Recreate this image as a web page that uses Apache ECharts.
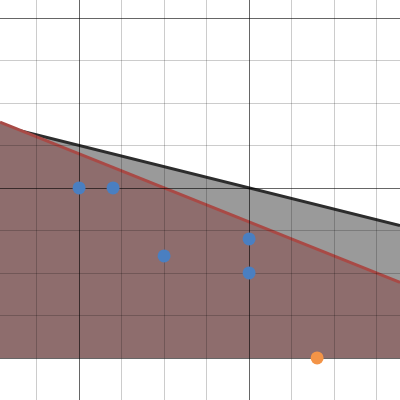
<!DOCTYPE html>
<html><head><meta charset="utf-8">
<script src="https://cdn.jsdelivr.net/npm/echarts@6/dist/echarts.min.js"></script>
<style>html,body{margin:0;padding:0;background:#fff}#c{width:400px;height:400px}</style>
</head><body><div id="c"></div>
<script>
const xRange=[-1.86,7.55], yRange=[-0.99,8.42];
const blackLine=[[-1.86,5.465],[7.55,3.1125]];
const redLine=[[-1.86,5.544],[7.55,1.78]];
const bluePts=[[0,4],[0.8,4],[2,2.4],[4,2.8],[4,2]];
const orangePts=[[5.6,0]];
const gridX=[-1,0,1,2,3,4,5,6,7], gridY=[0,1,2,3,4,5,6,7,8];
const majorX=[0,4], majorY=[0,4,8];
const ml=[];
gridX.forEach(v=>ml.push({xAxis:v,lineStyle:{color:majorX.includes(v)?'rgba(0,0,0,0.6)':'rgba(0,0,0,0.2)',width:1,type:'solid'}}));
gridY.forEach(v=>ml.push({yAxis:v,lineStyle:{color:majorY.includes(v)?'rgba(0,0,0,0.6)':'rgba(0,0,0,0.2)',width:1,type:'solid'}}));
const chart=echarts.init(document.getElementById('c'));
chart.setOption({animation:false,
grid:{left:0,right:0,top:0,bottom:0},
xAxis:{type:'value',min:xRange[0],max:xRange[1],show:false,splitLine:{show:false}},
yAxis:{type:'value',min:yRange[0],max:yRange[1],show:false,splitLine:{show:false}},
series:[
{type:'line',data:blackLine,symbol:'none',z:1,lineStyle:{color:'#2d2d2d',width:3},areaStyle:{color:'#9a9a9a',opacity:1,origin:0}},
{type:'line',data:redLine,symbol:'none',z:2,lineStyle:{color:'#a84a46',width:3},areaStyle:{color:'#8e6d6d',opacity:1,origin:0}},
{type:'line',data:[],z:3,markLine:{silent:true,symbol:'none',label:{show:false},data:ml}},
{type:'scatter',data:bluePts,z:5,symbolSize:13,itemStyle:{color:'#4a7fc1',opacity:1}},
{type:'scatter',data:orangePts,z:5,symbolSize:13,itemStyle:{color:'#f39447',opacity:1}}
]});
</script></body></html>
